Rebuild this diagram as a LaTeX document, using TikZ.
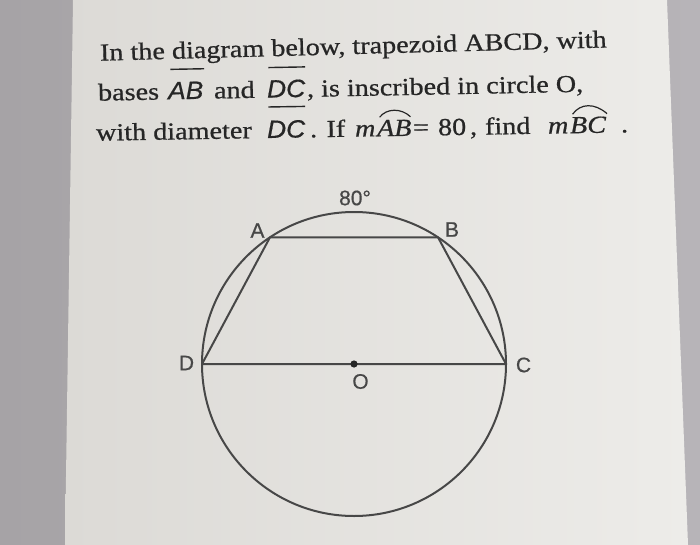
\documentclass[tikz,border=0pt]{standalone}
\usepackage{fontspec}
\setmainfont{Liberation Serif}[FakeStretch=1.15, FakeBold=0.7]
\newfontfamily\segfont{Liberation Sans}[FakeStretch=1.06, FakeBold=0.5]
\newfontfamily\labfont{Liberation Sans}[FakeBold=0.6]
\usetikzlibrary{calc}
\definecolor{bgL}{HTML}{A6A3A6}
\definecolor{bgR}{HTML}{B7B4B8}
\definecolor{paperA}{HTML}{DCDAD6}
\definecolor{paperB}{HTML}{EDECE9}
\definecolor{ink}{HTML}{262626}
\definecolor{geoC}{HTML}{474747}
\tikzset{
  txt/.style={anchor=base west, inner sep=0pt, text=ink, transform shape, font=\fontsize{24.5}{28}\selectfont},
  itx/.style={txt, font=\fontsize{24.5}{28}\selectfont\itshape},
  seg/.style={anchor=base west, inner sep=0pt, text=ink, transform shape, font=\fontsize{25}{29}\selectfont\segfont\itshape},
  bar/.style={draw=ink, line width=1.4pt},
  hat/.style={draw=ink, line width=1.2pt},
  geo/.style={draw=geoC, line width=2pt, line join=round},
  lab/.style={inner sep=0pt, text=geoC, font=\fontsize{21}{24}\selectfont\labfont}
}
\begin{document}
\begin{tikzpicture}[x=1pt,y=-1pt]
\useasboundingbox (0,0) rectangle (700,545);
\shade[left color=bgL, right color=bgR] (0,0) rectangle (700,545);
\shade[left color=paperA, right color=paperB] (73,0) -- (667,0) -- (688,545) -- (65,545) -- cycle;

% line 1
\begin{scope}[rotate around={1.5:(100,60.7)}]
\node[txt] (l1) at (100,60.7) {In the diagram below, trapezoid ABCD, with};
\end{scope}
% line 2
\begin{scope}[rotate around={1.05:(98,100.7)}]
\node[txt] (l2a) at (98,100.7) {bases};
\node[seg] (sAB) at (168,100.7) {AB};
\node[txt] (l2b) at (214,100.7) {and};
\node[seg] (sDC) at (267,100.7) {DC};
\node[txt] (l2c) at (307,100.7) {, is inscribed in circle O,};
\draw[bar] ($(sAB.base west)+(3,-30)$) -- ($(sAB.base east)+(1,-30)$);
\draw[bar] ($(sDC.base west)+(2,-30)$) -- ($(sDC.base east)+(0,-30)$);
\end{scope}
% line 3
\begin{scope}[rotate around={0.9:(96,140.7)}]
\node[txt] (l3a) at (96,140.7) {with diameter};
\node[seg] (sDCb) at (267,140.7) {DC};
\node[txt] (l3b) at (310,140.7) {. If};
\node[itx] (m1) at (355,140.7) {m};
\node[itx] (arcAB) at (377,140.7) {AB};
\node[txt] (eq) at (413,140.7) {=};
\node[txt] (n80) at (438,140.7) {80};
\node[txt] (cm) at (470,140.7) {,};
\node[txt] (fnd) at (485,140.7) {find};
\node[itx] (m2) at (548,140.7) {m};
\node[itx] (arcBC) at (570,140.7) {BC};
\node[txt] (pd) at (621,140.7) {.};
\draw[bar] ($(sDCb.base west)+(2,-31)$) -- ($(sDCb.base east)+(0,-31)$);
\draw[hat] ($(arcAB.base west)+(3,-19)$) .. controls ($(arcAB.base west)+(10,-28)$) and ($(arcAB.base east)+(-10,-28)$) .. ($(arcAB.base east)+(-1,-19)$);
\draw[hat] ($(arcBC.base west)+(3,-19)$) .. controls ($(arcBC.base west)+(11,-30)$) and ($(arcBC.base east)+(-11,-30)$) .. ($(arcBC.base east)+(1,-19)$);
\end{scope}

% diagram
\coordinate (O) at (354,364);
\coordinate (A) at (270,237.3);
\coordinate (B) at (438,237.3);
\coordinate (C) at (506,364);
\coordinate (D) at (202,364);
\draw[geo] (O) circle (152);
\draw[geo] (D) -- (A) -- (B) -- (C) -- cycle;
\fill[ink] (O) circle (3.6);
\node[lab] (lA) at (257.5,230.5) {A};
\node[lab] (lB) at (452,229.5) {B};
\node[lab] (lC) at (523.5,365) {C};
\node[lab] (lD) at (186.5,363) {D};
\node[lab] (lO) at (360.5,381.5) {O};
\node[lab] (l80) at (355,198) {80°};
\end{tikzpicture}
\end{document}
